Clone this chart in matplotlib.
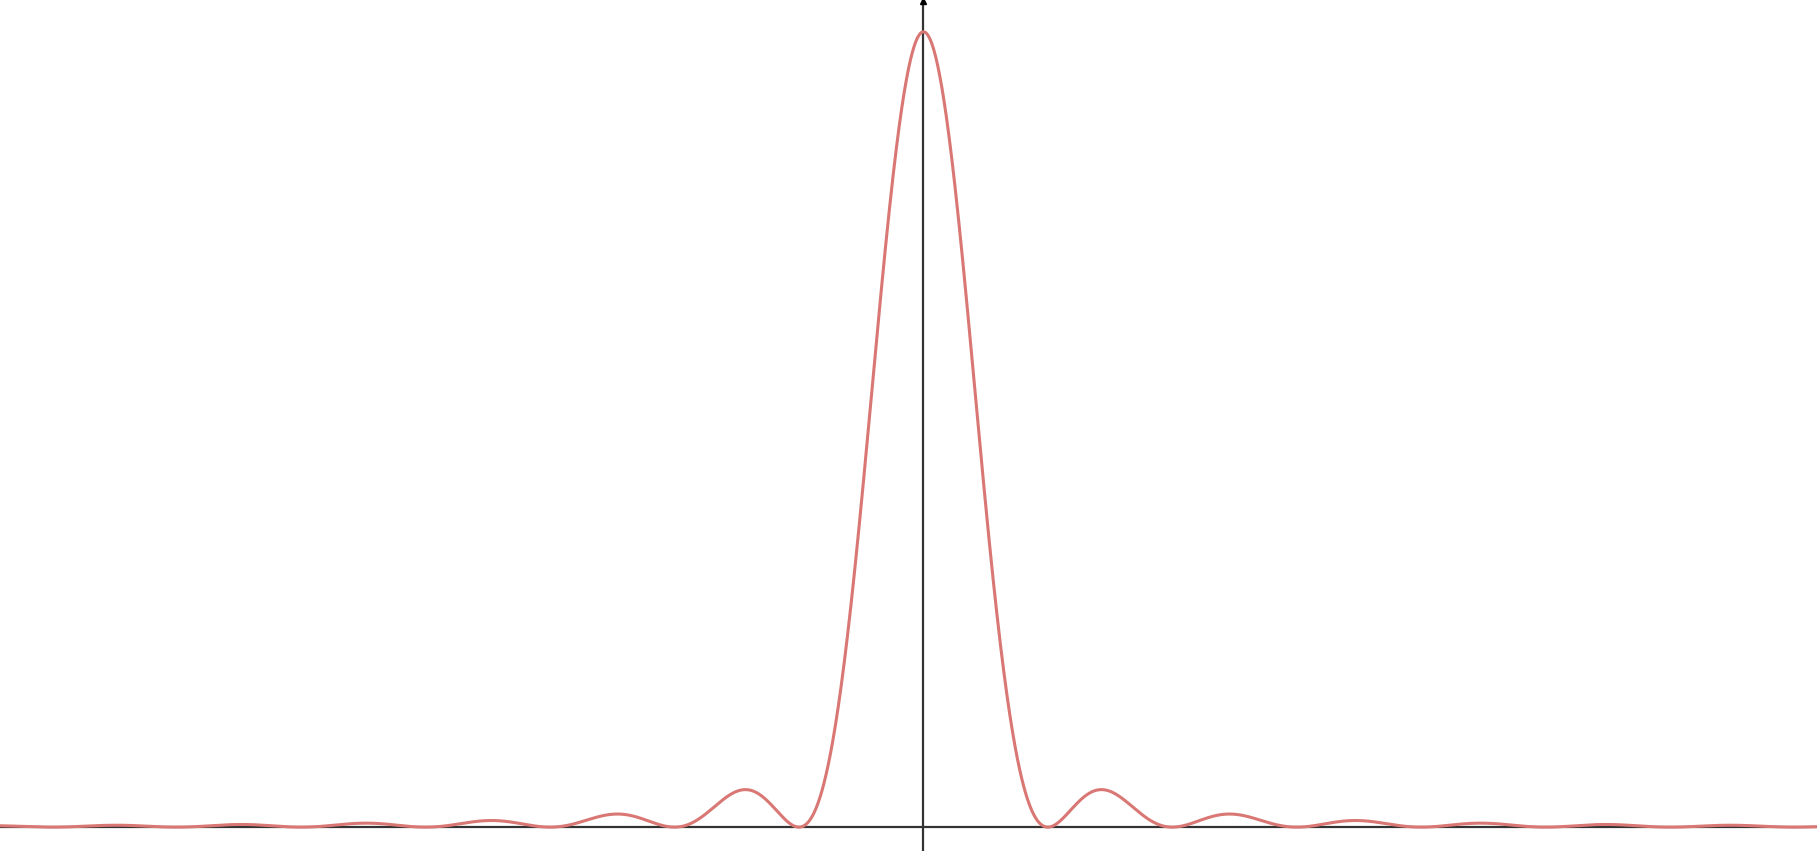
import numpy as np
import matplotlib

matplotlib.use("Agg")
import matplotlib.pyplot as plt

# Values (x in units of the first-zero distance).
PEAK_HEIGHT = 1.0          # central maximum
ZERO_SPACING = 1.0         # distance between successive zeros
X_RANGE = [-7.42, 7.18]    # visible x extent
Y_RANGE = [-0.030, 1.040]  # visible y extent

LINE_COLOR = "#d97774"
AXIS_COLOR = "#333333"

x = np.linspace(X_RANGE[0], X_RANGE[1], 4000)
y = PEAK_HEIGHT * np.sinc(x / ZERO_SPACING) ** 2

fig = plt.figure(figsize=(18.17, 8.51), dpi=100)
ax = fig.add_axes([0, 0, 1, 1])
ax.set_xlim(X_RANGE)
ax.set_ylim(Y_RANGE)
ax.axis("off")

# axes through the origin
ax.axhline(0, color=AXIS_COLOR, linewidth=1.6, zorder=1)
ax.axvline(0, color=AXIS_COLOR, linewidth=1.6, zorder=1)
# small arrow cap at the top of the y axis
ax.plot([0], [Y_RANGE[1] - 0.001], marker="^", markersize=4.5,
        color="black", clip_on=False, zorder=3)

ax.plot(x, y, color=LINE_COLOR, linewidth=2.2, zorder=2)

fig.savefig("out.png", dpi=100)
